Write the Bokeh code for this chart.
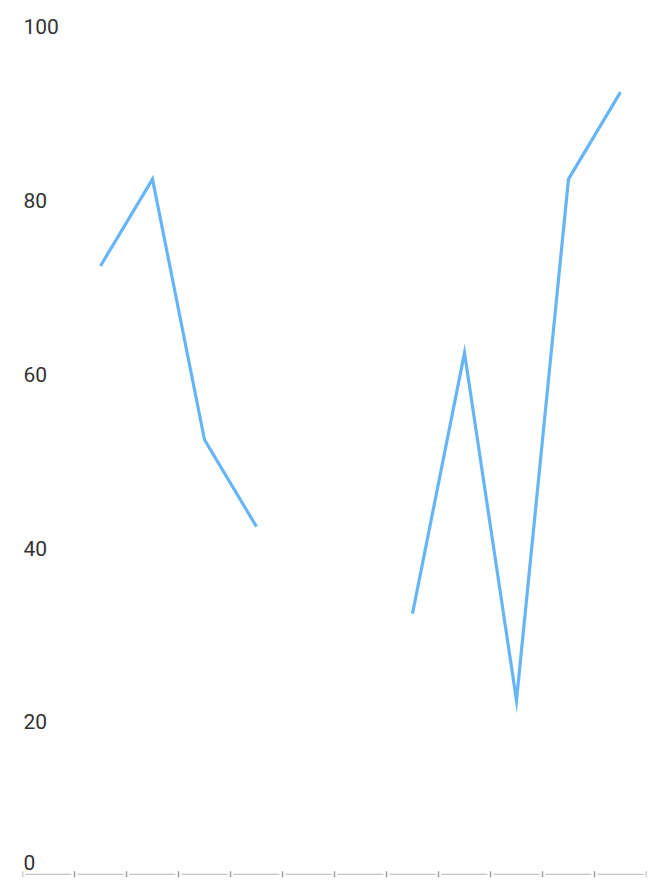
import numpy as np
from bokeh.plotting import figure
from bokeh.models import ColumnDataSource, Range1d, LabelSet
from bokeh.core.properties import value
from bokeh.embed import file_html
from bokeh.resources import INLINE

# ---- data ----
categories = list(range(12))
values = [np.nan, 70, 80, 50, 40, np.nan, np.nan, 30, 60, 20, 80, 90]
y_ticks = [0, 20, 40, 60, 80, 100]
y_tick_labels = ["0", "20", "40", "60", "80", "100"]

PX_PER_UNIT = 8.69
Y_MIN = -0.6
Y_MAX = 99.63
n = len(categories)

p = figure(
    frame_width=624, frame_height=int(round((Y_MAX - Y_MIN) * PX_PER_UNIT)),
    x_range=Range1d(0, n),
    y_range=Range1d(Y_MIN, Y_MAX),
    output_backend="svg", toolbar_location=None,
    x_axis_location=None, y_axis_location=None,
    min_border_left=22, min_border_right=12, min_border_top=8, min_border_bottom=0,
)
p.outline_line_color = None
p.xgrid.visible = False
p.ygrid.visible = False
p.background_fill_color = "white"

# category baseline: segments with gaps around the boundary ticks
boundaries = list(range(n + 1))
p.line(x=[boundaries[0], boundaries[-1]], y=[0, 0], line_color="#b5b5b5",
       line_width=1, line_dash="46 6", line_dash_offset=49)
p.scatter(x=boundaries, y=[0] * len(boundaries), marker="dash", angle=np.pi / 2,
          size=6, line_color="#9e9e9e", line_width=1.5)

# data line
xs = [c + 0.5 for c in categories]
src = ColumnDataSource(dict(x=xs, y=values))
p.line("x", "y", source=src, line_color="#66B5F7", line_width=3.2, line_join="miter")

# y tick labels, drawn below their value (0 drawn above the baseline)
upper = ColumnDataSource(dict(x=[0] * (len(y_ticks) - 1), y=y_ticks[1:], t=y_tick_labels[1:]))
lower = ColumnDataSource(dict(x=[0], y=y_ticks[:1], t=y_tick_labels[:1]))
common = dict(text_font=value("Roboto"), text_font_size="21px", text_color="#333333",
              text_align="left", x_offset=1)
p.add_layout(LabelSet(x="x", y="y", text="t", source=upper, text_baseline="top",
                      y_offset=-14, **common))
p.add_layout(LabelSet(x="x", y="y", text="t", source=lower, text_baseline="alphabetic",
                      y_offset=4, **common))

open("out.html", "w").write(file_html(p, INLINE))
